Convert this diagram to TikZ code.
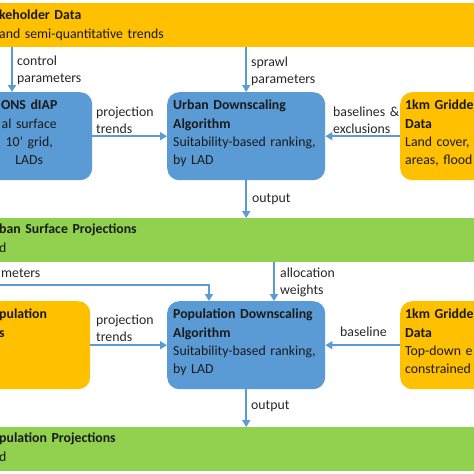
\documentclass[tikz,border=0pt]{standalone}
\usepackage{fontspec}
\setmainfont{Carlito}
\usepackage{xcolor}
\usepackage{tikz}
\usetikzlibrary{arrows.meta, positioning}

\definecolor{boxblue}{HTML}{5B9BD5}
\definecolor{boxgold}{HTML}{FFC000}
\definecolor{boxgreen}{HTML}{92D050}
\definecolor{inktext}{HTML}{1A1A1A}
\definecolor{labeltext}{HTML}{262626}

\begin{document}
\begin{tikzpicture}[x=1pt,y=-1pt,font=\fontsize{13.8}{18.4}\selectfont]

\tikzstyle{band}=[rectangle,anchor=north west,inner xsep=10pt,inner ysep=0pt,text width=474pt,align=left,text height=16.5pt,text depth=27.5pt,text=inktext]
\tikzstyle{alg}=[rectangle,rounded corners=12pt,fill=boxblue,anchor=north west,inner xsep=6pt,inner ysep=0pt,text width=146pt,align=left,text height=17.5pt,text depth=70.5pt,text=inktext]
\tikzstyle{data}=[alg,fill=boxgold]
\tikzstyle{line}=[draw=boxblue,line width=1.5pt,-{Triangle[length=7pt,width=8pt]}]
\tikzstyle{lbl}=[anchor=base west,inner sep=0pt,text width=80pt,align=left,text=labeltext,font=\fontsize{13.8}{17}\selectfont]

\useasboundingbox (0,0) rectangle (474,474);
\clip (0,0) rectangle (474,474);

% inputs and urban stage
\node (stake) [band,fill=boxgold] at (-11,3) {\textbf{keholder Data}\\and semi-quantitative trends};

\node (ons) [alg,align=center,text width=114pt] at (-34,92) {\textbf{ONS dIAP}\\al surface\\10’ grid,\\LADs};
\node (urban) [alg] at (167,92) {\textbf{Urban Downscaling}\\\textbf{Algorithm}\\Suitability-based ranking,\\by LAD};
\node (grid1) [data,inner xsep=5pt,text width=150pt] at (400,92) {\textbf{1km Gridde}\\\textbf{Data}\\Land cover,\\areas, flood};

\node (urbproj) [band,fill=boxgreen,text height=15.5pt,text depth=28.5pt] at (-11,218) {\textbf{ban Surface Projections}\\d};

% population stage
\node (poptrend) [data,inner xsep=10pt,text width=81pt] at (-11,301) {\textbf{pulation}\\\textbf{s}};
\node (popalg) [alg] at (167,301) {\textbf{Population Downscaling}\\\textbf{Algorithm}\\Suitability-based ranking,\\by LAD};
\node (grid2) [data,inner xsep=5pt,text width=150pt] at (400,301) {\textbf{1km Gridde}\\\textbf{Data}\\Top-down e\\constrained};

\node (popproj) [band,fill=boxgreen,text height=15.5pt,text depth=28.5pt] at (-11,427) {\textbf{pulation Projections}\\d};

\coordinate (ctrlx) at (12,0);
\coordinate (allocx) at (274,0);
\coordinate (parstart) at (-5,285);
\coordinate (parx) at (209,0);

\draw[line] (ctrlx |- stake.south) -- (ctrlx |- ons.north);
\draw[line] (stake.south -| urban.north) -- (urban.north);
\draw[line] (ons.east) -- (urban.west);
\draw[line] (grid1.west) -- (urban.east);
\draw[line] (urban.south) -- (urban.south |- urbproj.north);

\draw[line] (allocx |- urbproj.south) -- (allocx |- popalg.north);
\draw[line] (parstart) -| (parx |- popalg.north);
\draw[line] (poptrend.east) -- (popalg.west);
\draw[line] (grid2.west) -- (popalg.east);
\draw[line] (popalg.south) -- (popalg.south |- popproj.north);

% connector labels
\node (ctrllbl) [lbl] at (17,65.5) {control\\parameters};
\node (sprawllbl) [lbl] at (251,66.5) {sprawl\\parameters};
\node (trendlbl) [lbl] at (96,116.5) {projection\\trends};
\node (exclbl) [lbl] at (333,116.5) {baselines \&\\exclusions};
\node (outlbl) [lbl] at (252,202.5) {output};
\node (parlbl) [lbl] at (1,277.5) {meters};
\node (alloclbl) [lbl] at (280,277.5) {allocation\\weights};
\node (trendlbl2) [lbl] at (96,324.5) {projection\\trends};
\node (baselbl) [lbl] at (340,336.5) {baseline};
\node (outlbl2) [lbl] at (251,409.5) {output};

\end{tikzpicture}
\end{document}
